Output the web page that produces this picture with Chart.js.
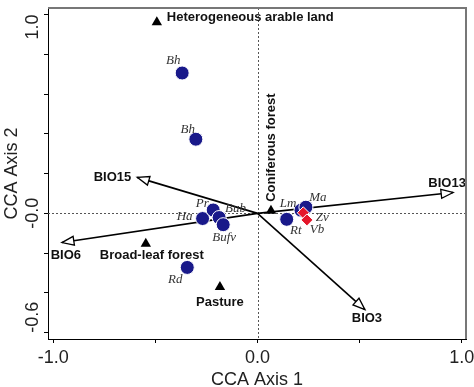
<!DOCTYPE html>
<html>
<head>
<meta charset="utf-8">
<script src="https://cdn.jsdelivr.net/npm/chart.js@4.4.1/dist/chart.umd.min.js"></script>
<style>
  html, body { margin: 0; padding: 0; background: #fff; }
  #wrap { width: 474px; height: 387px; position: relative; }
</style>
</head>
<body>
<div id="wrap"><canvas id="cca"></canvas></div>
<script>
// ===== DATA =====
const siteNames = ['Bh', 'Bh', 'Ha', 'Pr', 'Bub', 'Bufv', 'Rd', 'Lm', 'Ma', 'Rt'];
const siteX = [-0.369, -0.302, -0.269, -0.217, -0.188, -0.168, -0.344, 0.213, 0.237, 0.143];
const siteY = [0.706, 0.373, -0.026, 0.017, -0.021, -0.057, -0.272, 0.016, 0.031, -0.030];

const redNames = ['Zv', 'Vb'];
const redX = [0.224, 0.242];
const redY = [0.003, -0.033];

const landNames = ['Heterogeneous arable land', 'Coniferous forest', 'Broad-leaf forest', 'Pasture'];
const landX = [-0.493, 0.066, -0.547, -0.184];
const landY = [0.961, 0.013, -0.153, -0.370];

const envNames = ['BIO13', 'BIO15', 'BIO6', 'BIO3'];
const envX = [0.958, -0.589, -0.958, 0.526];
const envY = [0.105, 0.181, -0.147, -0.484];

const xTickValues = [-1, -0.5, 0, 0.5, 1];
const xTickLabels = ['-1.0', '', '0.0', '', '1.0'];
const yTickValues = [-0.6, -0.4, -0.2, 0, 0.2, 0.4, 0.6, 0.8, 1.0];
const yTickLabels = ['-0.6', '', '', '-0.0', '', '', '', '', '1.0'];

// label placement (pixel offsets from the mark)
const siteLabelPos = [[-9, -12, 'center'], [-8, -10, 'center'], [-10, -2, 'right'], [-11, -6, 'center'],
  [6, -9, 'left'], [1, 13, 'center'], [-12, 12, 'center'], [-13, -7, 'center'], [12, -10, 'center'], [9, 11, 'center']];
const redLabelPos = [[19, 5, 'center'], [10, 10, 'center']];
const landLabelPos = [[10, -5, 'left'], [0, -9, 'up'], [6, 12, 'center'], [0, 16, 'center']];
const envLabelPos = [[-6, -9, 'center'], [-6, 0, 'right'], [4, 13, 'center'], [2, 9, 'center']];

const SANS = '"Liberation Sans", Arial, sans-serif';
const SERIF = '"Liberation Serif", "Times New Roman", serif';

function pts(xs, ys) {
  return xs.map((x, i) => ({ x: x, y: ys[i] }));
}

const arrowSets = envNames.map((n, i) => ({
  label: n,
  type: 'line',
  data: [{ x: 0, y: 0 }, { x: envX[i], y: envY[i] }],
  borderColor: '#000',
  borderWidth: 1.6,
  pointRadius: 0,
  showLine: true,
  fill: false,
  order: 5
}));

// ===== DECOR PLUGIN =====
const decor = {
  id: 'decor',
  beforeDatasetsDraw(chart) {
    const { ctx, chartArea: a, scales: { x, y } } = chart;
    ctx.save();
    ctx.strokeStyle = '#555';
    ctx.lineWidth = 1;
    ctx.setLineDash([2, 2]);
    const x0 = Math.round(x.getPixelForValue(0)) + 0.5;
    const y0 = Math.round(y.getPixelForValue(0)) + 0.5;
    ctx.beginPath();
    ctx.moveTo(x0, a.top); ctx.lineTo(x0, a.bottom);
    ctx.moveTo(a.left, y0); ctx.lineTo(a.right, y0);
    ctx.stroke();
    ctx.restore();
  },
  afterDatasetsDraw(chart) {
    const { ctx, scales: { x, y } } = chart;
    const ox = x.getPixelForValue(0), oy = y.getPixelForValue(0);
    ctx.save();
    // arrow heads
    envNames.forEach((n, i) => {
      const tx = x.getPixelForValue(envX[i]), ty = y.getPixelForValue(envY[i]);
      const ang = Math.atan2(ty - oy, tx - ox);
      const L = 12, W = 4.5;
      const bx = tx - L * Math.cos(ang), by = ty - L * Math.sin(ang);
      ctx.beginPath();
      ctx.moveTo(tx, ty);
      ctx.lineTo(bx - W * Math.sin(ang), by + W * Math.cos(ang));
      ctx.lineTo(bx + W * Math.sin(ang), by - W * Math.cos(ang));
      ctx.closePath();
      ctx.fillStyle = '#fff';
      ctx.fill();
      ctx.strokeStyle = '#000';
      ctx.lineWidth = 1.3;
      ctx.stroke();
    });

    function put(text, px, py, pos, font, color) {
      ctx.font = font;
      ctx.fillStyle = color;
      ctx.textBaseline = 'middle';
      if (pos[2] === 'up') {
        ctx.save();
        ctx.translate(px + pos[0], py + pos[1]);
        ctx.rotate(-Math.PI / 2);
        ctx.textAlign = 'left';
        ctx.fillText(text, 0, 0);
        ctx.restore();
      } else {
        ctx.textAlign = pos[2];
        ctx.fillText(text, px + pos[0], py + pos[1]);
      }
    }
    const boldF = 'bold 13px ' + SANS;
    const italF = 'italic 13px ' + SERIF;
    siteNames.forEach((n, i) => put(n, x.getPixelForValue(siteX[i]), y.getPixelForValue(siteY[i]), siteLabelPos[i], italF, '#333'));
    redNames.forEach((n, i) => put(n, x.getPixelForValue(redX[i]), y.getPixelForValue(redY[i]), redLabelPos[i], italF, '#333'));
    landNames.forEach((n, i) => put(n, x.getPixelForValue(landX[i]), y.getPixelForValue(landY[i]), landLabelPos[i], boldF, '#111'));
    envNames.forEach((n, i) => put(n, x.getPixelForValue(envX[i]), y.getPixelForValue(envY[i]), envLabelPos[i], boldF, '#111'));
    ctx.restore();
  },
  afterDraw(chart) {
    const { ctx, chartArea: a, scales: { x, y } } = chart;
    ctx.save();
    // top & right frame
    ctx.strokeStyle = '#777';
    ctx.lineWidth = 2;
    ctx.beginPath();
    ctx.moveTo(a.left, a.top); ctx.lineTo(a.right, a.top); ctx.lineTo(a.right, a.bottom);
    ctx.stroke();

    ctx.fillStyle = '#222';
    ctx.font = '18px ' + SANS;
    ctx.textBaseline = 'middle';
    // x tick labels
    ctx.textAlign = 'center';
    xTickValues.forEach((v, i) => {
      if (xTickLabels[i]) ctx.fillText(xTickLabels[i], x.getPixelForValue(v), a.bottom + 19);
    });
    // y tick labels (rotated)
    yTickValues.forEach((v, i) => {
      if (!yTickLabels[i]) return;
      ctx.save();
      ctx.translate(a.left - 15, y.getPixelForValue(v));
      ctx.rotate(-Math.PI / 2);
      ctx.textAlign = i === 0 ? 'left' : (i === yTickValues.length - 1 ? 'right' : 'center');
      ctx.fillText(yTickLabels[i], 0, 0);
      ctx.restore();
    });
    // axis titles
    ctx.textAlign = 'center';
    ctx.fillText('CCA Axis 1', (a.left + a.right) / 2, a.bottom + 41);
    ctx.save();
    ctx.translate(12, (a.top + a.bottom) / 2);
    ctx.rotate(-Math.PI / 2);
    ctx.fillText('CCA Axis 2', 0, 0);
    ctx.restore();
    ctx.restore();
  }
};

// ===== CHART =====
window.addEventListener('load', function() {
  const ctx = document.getElementById('cca').getContext('2d');
  new Chart(ctx, {
    type: 'scatter',
    data: {
      datasets: [
        {
          label: 'Zv/Vb',
          data: pts(redX, redY),
          pointStyle: 'rectRot',
          pointRadius: 6,
          backgroundColor: '#e5172b',
          borderColor: '#fff',
          borderWidth: 1,
          order: 1
        },
        {
          label: 'Species',
          data: pts(siteX, siteY),
          pointStyle: 'circle',
          pointRadius: 7,
          backgroundColor: '#19198a',
          borderColor: '#fff',
          borderWidth: 1,
          order: 2
        },
        {
          label: 'Land use',
          data: pts(landX, landY),
          pointStyle: 'triangle',
          pointRadius: 6,
          backgroundColor: '#000',
          borderColor: '#000',
          borderWidth: 0,
          order: 3
        }
      ].concat(arrowSets)
    },
    options: {
      responsive: true,
      maintainAspectRatio: false,
      animation: false,
      layout: { padding: { top: 1, right: 8, left: 0, bottom: 0 } },
      plugins: {
        legend: { display: false },
        tooltip: { enabled: false }
      },
      scales: {
        x: {
          type: 'linear',
          min: -1.026,
          max: 1.021,
          afterBuildTicks: (s) => { s.ticks = xTickValues.map(v => ({ value: v })); },
          afterFit: (s) => { s.height = 48; },
          ticks: { display: false },
          grid: { display: true, drawOnChartArea: false, drawTicks: true, tickLength: 4, color: '#000' },
          border: { display: true, color: '#000', width: 1 }
        },
        y: {
          type: 'linear',
          min: -0.632,
          max: 1.033,
          afterBuildTicks: (s) => { s.ticks = yTickValues.map(v => ({ value: v })); },
          afterFit: (s) => { s.width = 48; },
          ticks: { display: false },
          grid: { display: true, drawOnChartArea: false, drawTicks: true, tickLength: 4, color: '#000' },
          border: { display: true, color: '#000', width: 1 }
        }
      }
    },
    plugins: [decor]
  });
});
</script>
</body>
</html>
